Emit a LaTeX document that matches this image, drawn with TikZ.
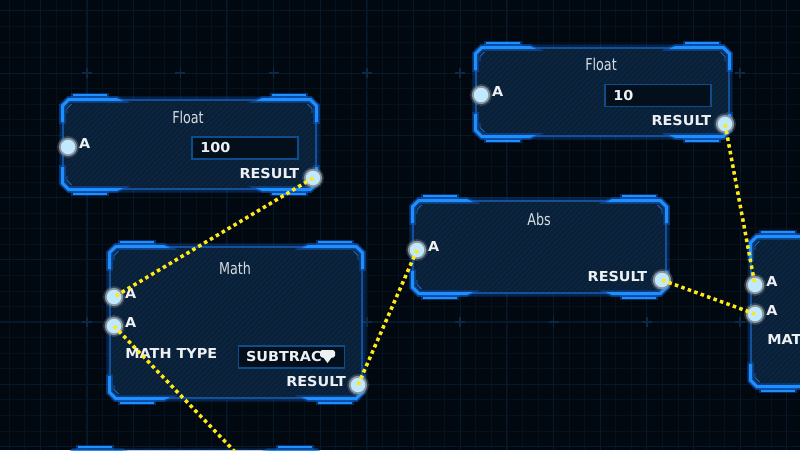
\documentclass[tikz,border=0pt]{standalone}
\usepackage{fontspec}
\usetikzlibrary{positioning, patterns}
\newfontfamily\titlefont[FakeStretch=0.78]{DejaVu Sans}
\newfontfamily\pixfont[FakeStretch=1.05]{DejaVu Sans}

\definecolor{bgcol}{HTML}{02080F}
\definecolor{gridcol}{HTML}{04111F}
\definecolor{gridmid}{HTML}{06192B}
\definecolor{crosscol}{HTML}{0C2A47}
\definecolor{panelcol}{HTML}{0A2038}
\definecolor{hatchcol}{HTML}{0E2A46}
\definecolor{framecol}{HTML}{1A6ACC}
\definecolor{accentcol}{HTML}{1E8FFF}
\definecolor{glowcol}{HTML}{0F5FD0}
\definecolor{sockfill}{HTML}{C0E9FF}
\definecolor{sockring}{HTML}{8A949C}
\definecolor{wirecol}{HTML}{FFE817}
\definecolor{textcol}{HTML}{EEF1F4}
\definecolor{titlecol}{HTML}{D5DCE3}
\definecolor{boxcol}{HTML}{040F1C}
\definecolor{boxline}{HTML}{0F4C8C}

\tikzset{
  gridline/.style={draw=gridcol, line width=0.4pt},
  gridmajor/.style={draw=gridmid, line width=0.6pt},
  gridcross/.style={draw=crosscol, line width=0.9pt},
  panelbody/.style={preaction={draw=glowcol, line width=4pt, opacity=0.3},
    preaction={fill=panelcol}, pattern=north east lines, pattern color=hatchcol,
    draw=framecol, line width=0.7pt},
  accent/.style={fill=accentcol, preaction={draw=glowcol, line width=2pt, opacity=0.45}},
  socket/.style={circle, minimum size=0.33cm, inner sep=0pt, fill=sockfill,
    draw=sockring, line width=1pt, preaction={draw=sockring, line width=3pt, opacity=0.3}},
  pinlabel/.style={font=\pixfont\bfseries\fontsize{7.8}{8}\selectfont, text=textcol, inner sep=0pt},
  titletext/.style={font=\titlefont\fontsize{9.3}{10}\selectfont, text=titlecol, inner sep=0pt},
  valuebox/.style={draw=boxline, fill=boxcol, line width=0.8pt, inner sep=0pt,
    minimum width=2.12cm, minimum height=0.44cm},
  wire/.style={draw=wirecol, line width=2pt, dash pattern=on 2pt off 1.9pt}
}

% frame of one node: x0 y0 x1 y1 (pixels, y down)
\newcommand\panel[4]{%
  \path[panelbody] (#1,#2+6) -- (#1+6,#2) -- (#3-6,#2) -- (#3,#2+6)
    -- (#3,#4-6) -- (#3-6,#4) -- (#1+6,#4) -- (#1,#4-6) -- cycle;
  \foreach \cx/\cy/\sx/\sy in {#1/#2/1/1, #3/#2/-1/1, #1/#4/1/-1, #3/#4/-1/-1}{
    \begin{scope}[shift={(\cx,\cy)}, xscale=\sx, yscale=\sy]
      \path[accent] (-2,22) -- (-2,5.2) -- (5.2,-2) -- (54,-2) -- (60,1)
        -- (6.4,1) -- (1,6.4) -- (1,22) -- cycle;
      \path[accent] (10,-5.6) rectangle (44,-3.8);
      \draw[framecol, line width=0.5pt] (4,13) -- (4,8.5) -- (8.5,4);
    \end{scope}
  }}

\begin{document}
\begin{tikzpicture}[x=0.02cm, y=-0.02cm]
  \useasboundingbox (0,0) rectangle (800,450);
  \clip (0,0) rectangle (800,450);

  % background grid
  \fill[bgcol] (0,0) rectangle (800,450);
  \foreach \i in {0,...,51}
    \draw[gridline] (9.25+15.55*\i,0) -- (9.25+15.55*\i,450);
  \foreach \j in {0,...,28}
    \draw[gridline] (0,10.8+15.56*\j) -- (800,10.8+15.56*\j);
  \foreach \i in {0,...,16}
    \draw[gridmajor] (40.35+46.65*\i,0) -- (40.35+46.65*\i,450);
  \foreach \j in {0,...,7}
    \draw[gridmajor] (0,10.8+62.24*\j) -- (800,10.8+62.24*\j);
  \foreach \i in {0,...,8}
    \foreach \j in {73,322}
      \draw[gridcross] (87+93.3*\i-5,\j) -- (87+93.3*\i+5,\j)
        (87+93.3*\i,\j-5) -- (87+93.3*\i,\j+5);

  % Float (100)
  \panel{63}{100}{316}{189}
  \node[titletext] (f1title) at (188,117) {Float};
  \node[socket] (f1a) at (68,147) {};
  \node[pinlabel, right=1pt of f1a, yshift=2pt] (f1alabel) {A};
  \node[valuebox] (f1box) at (245,148) {};
  \node[pinlabel, right=5pt of f1box.west] (f1value) {100};
  \node[socket] (f1r) at (313,178) {};
  \node[pinlabel, left=2.5pt of f1r, yshift=2.5pt] (f1rlabel) {RESULT};

  % Float (10)
  \panel{476}{48}{729}{136}
  \node[titletext] (f2title) at (601,64) {Float};
  \node[socket] (f2a) at (481,95) {};
  \node[pinlabel, right=1pt of f2a, yshift=2pt] (f2alabel) {A};
  \node[valuebox] (f2box) at (658,95.5) {};
  \node[pinlabel, right=5pt of f2box.west] (f2value) {10};
  \node[socket] (f2r) at (725,124) {};
  \node[pinlabel, left=2.5pt of f2r, yshift=2pt] (f2rlabel) {RESULT};

  % Math
  \panel{110}{247}{362}{398}
  \node[titletext] (mtitle) at (235,268) {Math};
  \node[socket] (ma1) at (114,297) {};
  \node[pinlabel, right=1pt of ma1, yshift=2pt] (ma1label) {A};
  \node[socket] (ma2) at (114,326) {};
  \node[pinlabel, right=1pt of ma2, yshift=2pt] (ma2label) {A};
  \node[pinlabel, anchor=west] (mtype) at (125,353) {MATH TYPE};
  \node[valuebox] (mbox) at (291.5,357) {};
  \node[pinlabel, right=4.5pt of mbox.west] (mvalue) {SUBTRAC};
  \fill[textcol, rounded corners=1pt] (320,350) rectangle (335,357.5);
  \fill[textcol] (323,357) -- (332,357) -- (327.5,363) -- cycle;
  \node[socket] (mr) at (358,385) {};
  \node[pinlabel, left=1.5pt of mr, yshift=1.8pt] (mrlabel) {RESULT};

  % Abs
  \panel{413}{201}{666}{293}
  \node[titletext] (abtitle) at (539,219) {Abs};
  \node[socket] (aba) at (417,250) {};
  \node[pinlabel, right=1pt of aba, yshift=2pt] (abalabel) {A};
  \node[socket] (abr) at (662,280) {};
  \node[pinlabel, left=3pt of abr, yshift=2.2pt] (abrlabel) {RESULT};

  % node cut by the right border
  \panel{751}{237}{1010}{386}
  \node[socket] (rga1) at (755,285) {};
  \node[pinlabel, right=1pt of rga1, yshift=2pt] (rga1label) {A};
  \node[socket] (rga2) at (755,314) {};
  \node[pinlabel, right=1pt of rga2, yshift=2pt] (rga2label) {A};
  \node[pinlabel, anchor=west] (rgtype) at (767,339) {MATH TYPE};

  % node below the bottom border
  \panel{68}{452}{322}{545}
  \coordinate (below) at (262,480);

  % wires
  \draw[wire] (f1r.center) -- (ma1.center);
  \draw[wire] (ma2.center) -- (below);
  \draw[wire] (mr.center) -- (aba.center);
  \draw[wire] (abr.center) -- (rga2.center);
  \draw[wire] (f2r.center) -- (rga1.center);
\end{tikzpicture}
\end{document}
